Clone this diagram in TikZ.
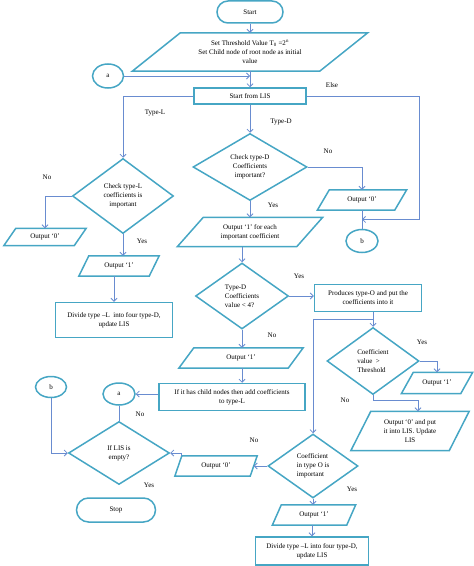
\documentclass[tikz,border=0pt]{standalone}
\usepackage{fontspec}
\setmainfont{Liberation Serif}
\usetikzlibrary{shapes.geometric,shapes.misc,arrows.meta,calc}
\definecolor{shp}{RGB}{70,166,196}
\definecolor{con}{RGB}{105,140,208}
\newcommand\myparadraw[2]{\draw[shpline] ($(#1.south west)+(-#2/2,0)$) -- ($(#1.south east)+(-#2/2,0)$) -- ($(#1.north east)+(#2/2,0)$) -- ($(#1.north west)+(#2/2,0)$) -- cycle;}
\begin{document}
\begin{tikzpicture}[x=1bp,y=-1bp,
  every node/.style={font=\fontsize{7bp}{9bp}\selectfont, align=center},
  shpline/.style={draw=shp, line width=1.5bp},
  box/.style={rectangle, shpline, inner sep=1bp},
  para/.style={rectangle, inner sep=1bp},
  dia/.style={diamond, shpline, inner sep=0pt, aspect=1.5},
  term/.style={rounded rectangle, shpline, inner sep=1bp},
  conn/.style={ellipse, shpline, inner sep=0pt},
  lbl/.style={inner sep=0pt},
  arr/.style={draw=con, line width=0.8bp, -{Straight Barb[length=3bp,width=6bp]}},
  ln/.style={draw=con, line width=0.8bp},
]
\useasboundingbox (0,0) rectangle (474,566);
% nodes
\node[term, minimum width=68bp, minimum height=22bp] (start) at (250,12) {Start};
\node[para, minimum width=187bp, minimum height=38bp] (set) at (250,52) {Set Threshold Value T\textsubscript{0} =2\textsuperscript{n}\\Set Child node of root node as initial\\value};
\node[conn, minimum width=31bp, minimum height=24bp] (a1) at (108,76) {a};
\node[box, minimum width=112bp, minimum height=16bp] (lis) at (250,96) {Start from LIS};
\node[dia, minimum width=114bp, minimum height=67bp] (chD) at (250,167) {Check type-D\\Coefficients\\important?};
\node[dia, minimum width=101bp, minimum height=75bp] (chL) at (123,196) {Check type-L\\coefficients is\\important};
\node[para, minimum width=77bp, minimum height=20bp] (o0R) at (362,200) {Output ‘0’};
\node[conn, minimum width=32bp, minimum height=23bp] (b1) at (362,241) {b};
\node[para, minimum width=119bp, minimum height=29bp] (o1each) at (250,232) {Output ‘1’ for each\\important coefficient};
\node[para, minimum width=70bp, minimum height=17bp] (o0L) at (45,237) {Output ‘0’};
\node[para, minimum width=70bp, minimum height=20bp] (o1L) at (119,266) {Output ‘1’};
\node[box, minimum width=117bp, minimum height=35bp] (divL) at (114,320) {Divide type –L \ into four type-D,\\update LIS};
\node[dia, minimum width=93bp, minimum height=66bp, align=left] (tD) at (242,296) {Type-D\\Coefficients\\value < 4?};
\node[box, minimum width=107bp, minimum height=27bp] (prod) at (368,298) {Produces type-O and put the\\coefficients into it};
\node[para, minimum width=109bp, minimum height=20bp] (o1M) at (241,358) {Output ‘1’};
\node[dia, minimum width=92bp, minimum height=67bp, align=left] (thr) at (373,361) {Coefficient\\value \ >\\Threshold};
\node[para, minimum width=59bp, minimum height=21bp] (o1R) at (437,383) {Output ‘1’};
\node[para, minimum width=98bp, minimum height=39bp] (o0put) at (410,431) {Output ‘0’ and put\\it into LIS. Update\\LIS};
\node[box, minimum width=146bp, minimum height=27bp] (child) at (232,397) {If it has child nodes then add coefficients\\to type-L};
\node[conn, minimum width=32bp, minimum height=22bp] (a2) at (119,394) {a};
\node[conn, minimum width=31bp, minimum height=21bp] (b2) at (51,387) {b};
\node[dia, minimum width=101bp, minimum height=63bp] (lisE) at (119,453) {If LIS is\\empty?};
\node[term, minimum width=81bp, minimum height=24bp] (stop) at (116,510) {Stop};
\node[para, minimum width=75bp, minimum height=20bp] (o0b) at (216,466) {Output ‘0’};
\node[dia, minimum width=90bp, minimum height=64bp, align=left] (coO) at (313,466) {Coefficient\\in type O is\\important};
\node[para, minimum width=74bp, minimum height=20bp] (o1B) at (314,515) {Output ‘1’};
\node[box, minimum width=113bp, minimum height=28bp] (divB) at (312,551) {Divide type –L into four type-D,\\update LIS};
% parallelogram outlines
\myparadraw{set}{48}
\myparadraw{o0R}{12}
\myparadraw{o1each}{26}
\myparadraw{o0L}{12}
\myparadraw{o1L}{10}
\myparadraw{o1M}{15}
\myparadraw{o1R}{12}
\myparadraw{o0put}{20}
\myparadraw{o0b}{7}
\myparadraw{o1B}{9}
% connectors
\draw[arr] (start.south) -- (set.north);
\draw[arr] (set.south) -- (lis.north);
\draw[arr] (a1.east) -- (a1.east -| lis.north);
\draw[arr] (lis.west) -| (chL.north);
\draw[arr] (lis.south) -- (chD.north);
\coordinate (e1) at (419,96);
\coordinate (e2) at ($(o0R.south)!0.5!(b1.north)$);
\draw[arr] (lis.east) -- (e1) |- (e2);
\draw[arr] (chD.east) -| (o0R.north);
\draw[ln] (o0R.south) -- (b1.north);
\draw[arr] (chD.south) -- (o1each.north);
\draw[arr] (chL.west) -| (o0L.north);
\draw[arr] (chL.south) -- (chL.south |- o1L.north);
\draw[arr] (o1L.south -| divL.north) -- (divL.north);
\draw[arr] (o1each.south -| tD.north) -- (tD.north);
\draw[arr] (tD.east) -- (tD.east -| prod.west);
\draw[arr] (tD.south) -- (tD.south |- o1M.north);
\draw[arr] (tD.south |- o1M.south) -- (tD.south |- child.north);
\draw[arr] (a2.east -| child.west) -- (a2.east);
\draw[ln] (a2.south) -- (lisE.north);
\draw[arr] (b2.south) |- (lisE.west);
\coordinate (o0btl) at ($(o0b.north west)+(3.5,0)$);
\draw[arr] (o0btl) |- (lisE.east);
\draw[arr] (coO.west) -- (o0b.east);
\draw[arr] (prod.south -| thr.north) -- (thr.north);
\coordinate (br) at ($(prod.south -| thr.north)!0.5!(thr.north)$);
\draw[arr] (br) -| (coO.north);
\draw[arr] (thr.east) -| (o1R.north);
\coordinate (p3) at ($(o0put.north)+(8,0)$);
\draw[arr] (thr.south) -- ++(0,5) -| (p3);
\draw[arr] (coO.south) -- (coO.south |- o1B.north);
\draw[arr] (o1B.south -| divB.north) -- (divB.north);
% labels
\node[lbl] (lElse) at (332,85) {Else};
\node[lbl] (lTL) at (155,113) {Type-L};
\node[lbl] (lTD) at (281,122) {Type-D};
\node[lbl] (lNo1) at (328,151) {No};
\node[lbl] (lNo2) at (47,177) {No};
\node[lbl] (lYes1) at (273,205) {Yes};
\node[lbl] (lYes2) at (142,241) {Yes};
\node[lbl] (lYes3) at (299,276) {Yes};
\node[lbl] (lNo3) at (272,335) {No};
\node[lbl] (lYes4) at (422,342) {Yes};
\node[lbl] (lNo4) at (345,400) {No};
\node[lbl] (lNo5) at (140,414) {No};
\node[lbl] (lNo6) at (254,440) {No};
\node[lbl] (lYes5) at (149,485) {Yes};
\node[lbl] (lYes6) at (352,489) {Yes};
\end{tikzpicture}
\end{document}
